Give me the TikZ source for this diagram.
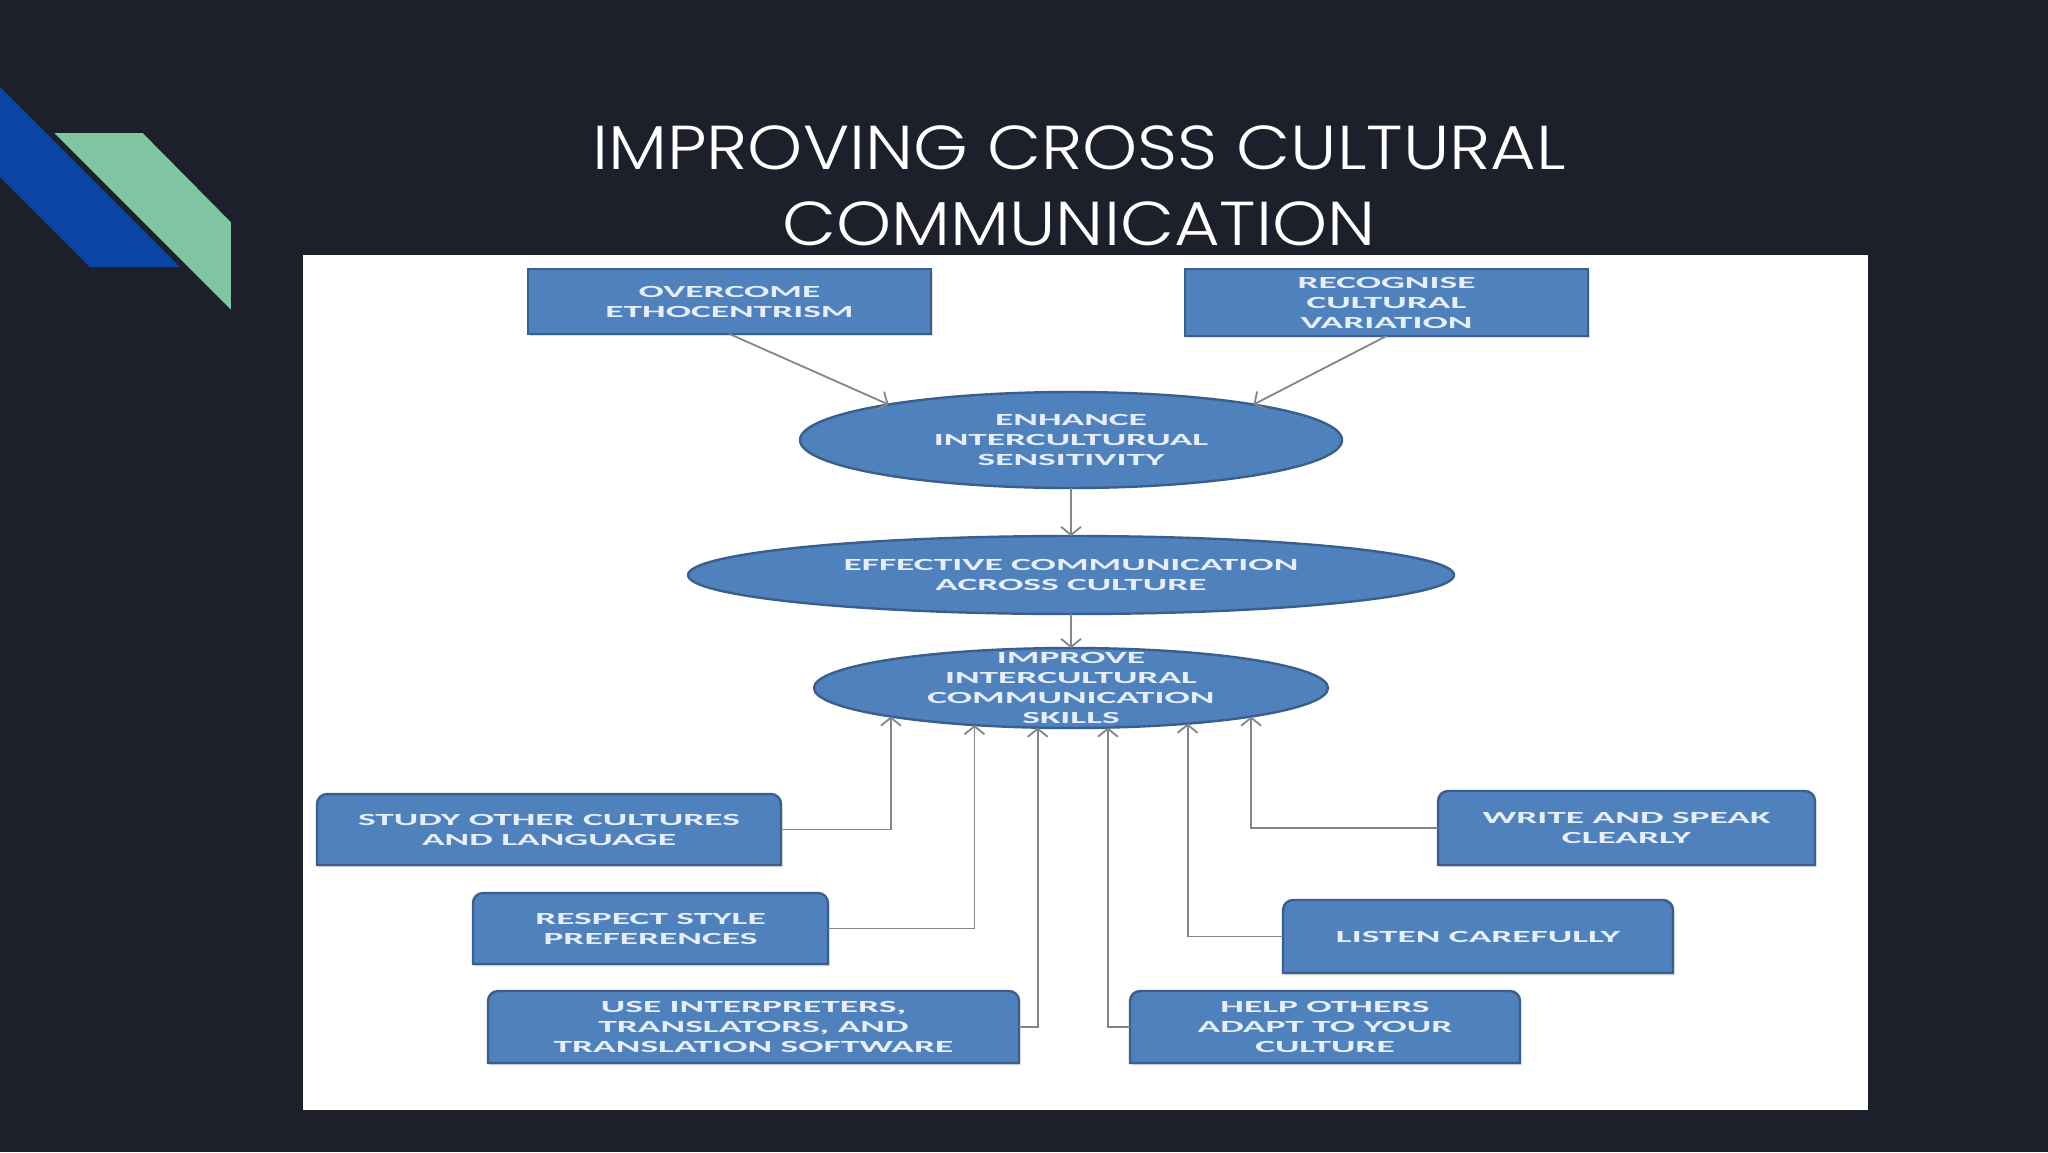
\documentclass[tikz,border=0pt]{standalone}
\usepackage{fontspec}
\usetikzlibrary{shapes.geometric,arrows.meta,shadows}
\newfontfamily\titlefont{Poppins}[UprightFont=* Light, FakeStretch=1.13]
\newfontfamily\boxfont{Carlito}[FakeStretch=2.2]
\definecolor{slidebg}{HTML}{1D202B}
\definecolor{stripblue}{HTML}{0A45A6}
\definecolor{stripgreen}{HTML}{80C6A3}
\definecolor{boxblue}{HTML}{4F81BD}
\definecolor{boxedge}{HTML}{3A5F8C}
\definecolor{boxtext}{HTML}{E6EEF9}
\definecolor{linkgrey}{HTML}{80868F}
\pgfdeclarelayer{slide}
\pgfdeclarelayer{tabs}
\pgfsetlayers{slide,tabs,main}
% tab shape behind a node: top corners rounded, bottom corners square
\newcommand{\tabshape}[1]{%
  \path[tabfill] (#1.south west) -- ([yshift=-5pt]#1.north west)
    arc[start angle=180, end angle=90, radius=5pt]
    -- ([xshift=-5pt]#1.north east)
    arc[start angle=90, end angle=0, radius=5pt]
    -- (#1.south east) -- cycle;}
\begin{document}
\begin{tikzpicture}[
  x=0.5pt, y=-0.5pt,
  boxtxt/.style={align=center, text=boxtext,
    font=\boxfont\bfseries\fontsize{8.5pt}{10pt}\selectfont},
  topbox/.style={boxtxt, rectangle, fill=boxblue, draw=boxedge, line width=1.2pt,
    inner sep=0pt, outer sep=0pt,
    drop shadow={opacity=0.25, shadow xshift=0.8pt, shadow yshift=-1.2pt}},
  tabbox/.style={boxtxt, rectangle, inner sep=0pt, outer sep=0pt},
  tabfill/.style={fill=boxblue, draw=boxedge, line width=1.2pt,
    drop shadow={opacity=0.25, shadow xshift=0.8pt, shadow yshift=-1.2pt}},
  oval/.style={ellipse, fill=boxblue, draw=boxedge, line width=1.2pt,
    inner sep=0pt, outer sep=0pt},
  link/.style={draw=linkgrey, line width=0.9pt,
    -{Straight Barb[length=4pt, width=10pt]}},
  titletext/.style={align=center, text=white,
    font=\titlefont\fontsize{31pt}{38pt}\selectfont}
]
  \useasboundingbox (0,0) rectangle (2048,1152);
  % ---- slide background, corner strips, white panel ----
  \begin{pgfonlayer}{slide}
    \fill[slidebg] (0,0) rectangle (2048,1152);
    \fill[stripblue] (0,87) -- (180,267) -- (90,267) -- (0,177) -- cycle;
    \filldraw[fill=stripgreen, draw=slidebg, line width=0.8pt]
      (52,132) -- (143,132) -- (232,222) -- (232,312) -- cycle;
    \fill[white] (303,255) rectangle (1868,1110);
  \end{pgfonlayer}
  % ---- title ----
  \node[titletext] (title) at (1079,186) {IMPROVING CROSS CULTURAL\\COMMUNICATION};
  % ---- top boxes ----
  \node[topbox, minimum width=201.5pt, minimum height=32.5pt] (ov) at (729.5,301.5)
    {OVERCOME\\ETHOCENTRISM};
  \node[topbox, minimum width=201.5pt, minimum height=33.5pt] (rec) at (1386.5,302.5)
    {RECOGNISE\\CULTURAL\\VARIATION};
  % ---- ovals ----
  \node[oval, minimum width=271pt, minimum height=48pt] (enh) at (1071,440) {};
  \node[boxtxt] (enhtxt) at (enh) {ENHANCE\\INTERCULTURUAL\\SENSITIVITY};
  \node[oval, minimum width=383pt, minimum height=39pt] (eff) at (1071,575) {};
  \node[boxtxt] (efftxt) at (eff) {EFFECTIVE COMMUNICATION\\ACROSS CULTURE};
  \node[oval, minimum width=257pt, minimum height=40pt] (imp) at (1071,688) {};
  \node[boxtxt] (imptxt) at (imp) {IMPROVE\\INTERCULTURAL\\COMMUNICATION\\SKILLS};
  % ---- bottom boxes ----
  \node[tabbox, minimum width=232pt, minimum height=35.5pt] (study) at (549,829.5)
    {STUDY OTHER CULTURES\\AND LANGUAGE};
  \node[tabbox, minimum width=177.5pt, minimum height=35.5pt] (resp) at (650.5,928.5)
    {RESPECT STYLE\\PREFERENCES};
  \node[tabbox, minimum width=265.5pt, minimum height=36pt] (use) at (753.5,1027)
    {USE INTERPRETERS,\\TRANSLATORS, AND\\TRANSLATION SOFTWARE};
  \node[tabbox, minimum width=188.5pt, minimum height=37pt] (write) at (1626.5,828)
    {WRITE AND SPEAK\\CLEARLY};
  \node[tabbox, minimum width=195pt, minimum height=36.5pt] (listen) at (1478,936.5)
    {LISTEN CAREFULLY};
  \node[tabbox, minimum width=195pt, minimum height=36pt] (help) at (1325,1027)
    {HELP OTHERS\\ADAPT TO YOUR\\CULTURE};
  \begin{pgfonlayer}{tabs}
    \tabshape{study}
    \tabshape{resp}
    \tabshape{use}
    \tabshape{write}
    \tabshape{listen}
    \tabshape{help}
  \end{pgfonlayer}
  % ---- entry points on the lower oval ----
  \coordinate (in1) at (imp.189.1);
  \coordinate (in2) at (imp.201.6);
  \coordinate (in3) at (imp.230.3);
  \coordinate (in4) at (imp.313.8);
  \coordinate (in5) at (imp.343.3);
  \coordinate (in6) at (imp.351.0);
  % ---- connectors ----
  \draw[link] (ov.south) -- (enh.169.4);
  \draw[link] (rec.south) -- (enh.11.4);
  \draw[link] (enh.south) -- (eff.north);
  \draw[link] (eff.south) -- (imp.north);
  \draw[link] (study.east) -| (in1);
  \draw[link] (resp.east) -| (in2);
  \draw[link] (use.east) -| (in3);
  \draw[link] (help.west) -| (in4);
  \draw[link] (listen.west) -| (in5);
  \draw[link] (write.west) -| (in6);
\end{tikzpicture}
\end{document}
